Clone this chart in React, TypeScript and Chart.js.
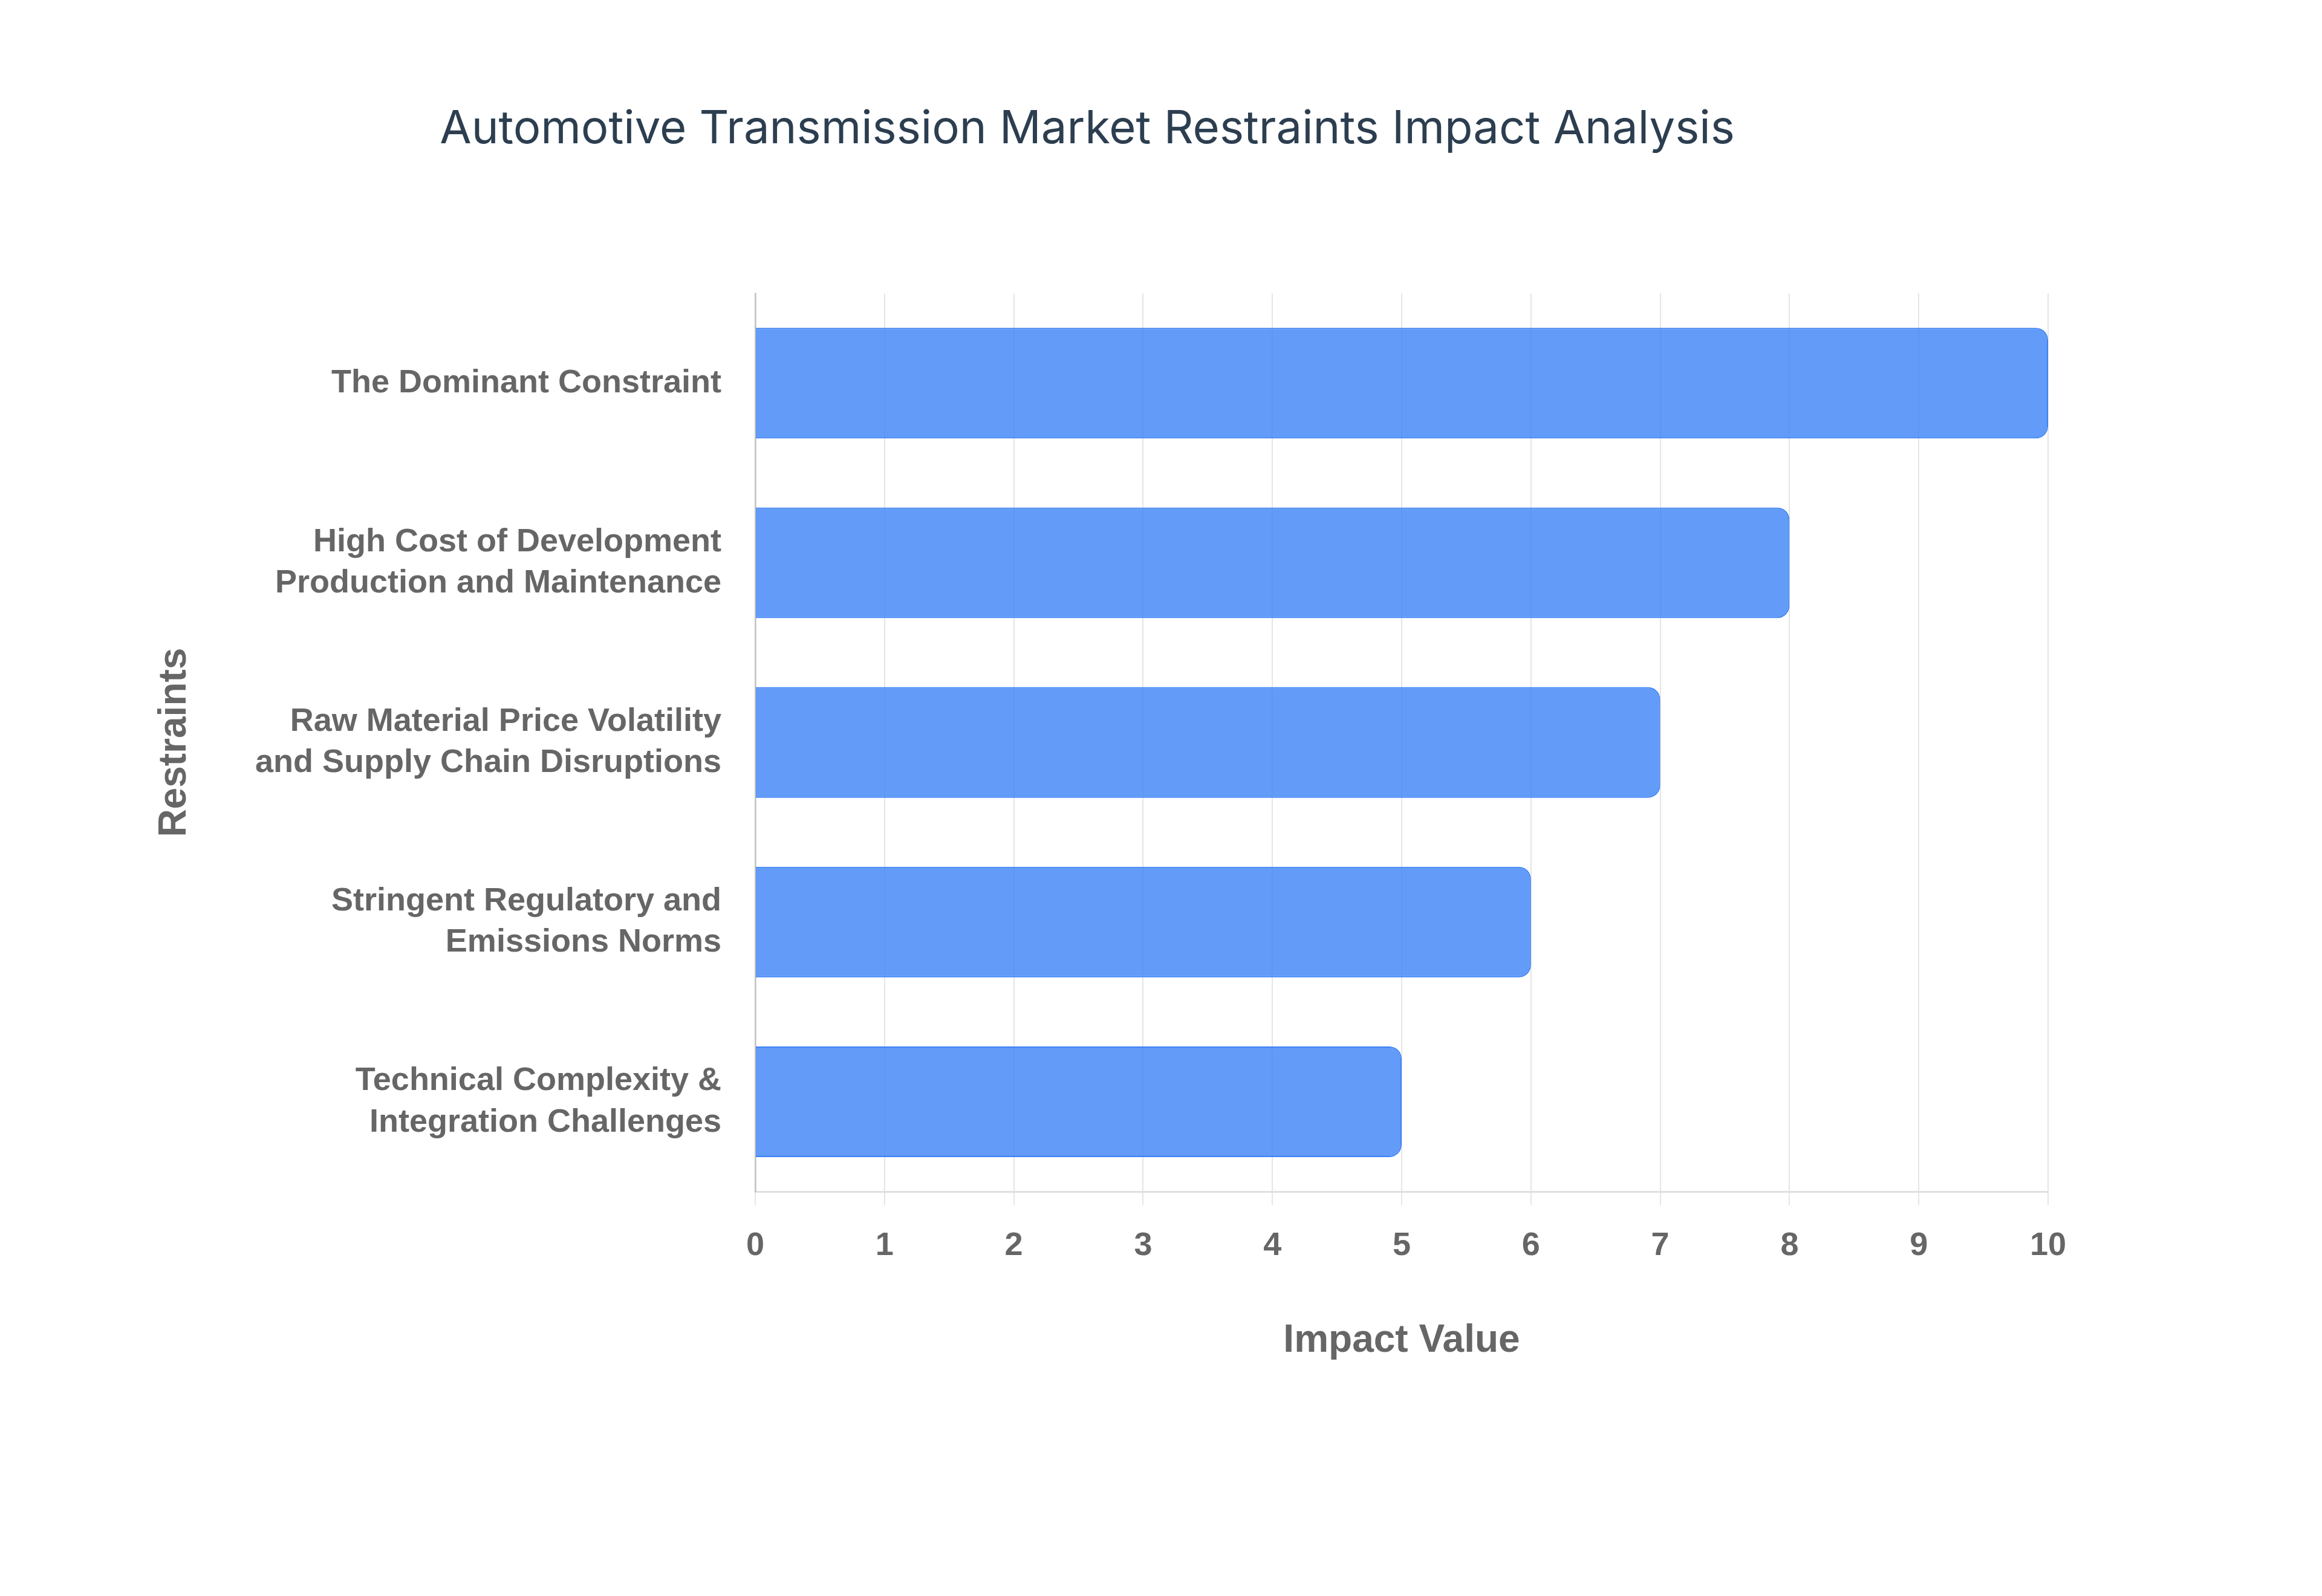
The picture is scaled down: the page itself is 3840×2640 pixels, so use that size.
import React, { useEffect, useRef } from 'react';
import { Chart, registerables } from 'chart.js';

Chart.register(...registerables);

const categories: (string | string[])[] = [
  'The Dominant Constraint',
  ['High Cost of Development', 'Production and Maintenance'],
  ['Raw Material Price Volatility', 'and Supply Chain Disruptions'],
  ['Stringent Regulatory and', 'Emissions Norms'],
  ['Technical Complexity &', 'Integration Challenges'],
];
const impactValues = [10, 8, 7, 6, 5];
const xTicks = [0, 1, 2, 3, 4, 5, 6, 7, 8, 9, 10];

const W = 3840;
const H = 2640;
const axisGrey = '#666666';

export default function App() {
  const canvasRef = useRef<HTMLCanvasElement | null>(null);
  const chartRef = useRef<Chart | null>(null);

  useEffect(() => {
    document.body.style.margin = '0';
    if (!canvasRef.current) return;
    if (chartRef.current) chartRef.current.destroy();
    const ctx = canvasRef.current.getContext('2d');
    if (!ctx) return;

    chartRef.current = new Chart(ctx, {
      type: 'bar',
      data: {
        labels: categories,
        datasets: [
          {
            label: 'Impact Value',
            data: impactValues,
            backgroundColor: 'rgba(59, 130, 246, 0.8)',
            borderColor: 'rgb(59, 130, 246)',
            borderWidth: 2,
            borderRadius: 20,
            borderSkipped: 'start',
            barPercentage: 0.77,
            categoryPercentage: 0.8,
          },
        ],
      },
      options: {
        indexAxis: 'y',
        responsive: false,
        maintainAspectRatio: false,
        animation: false,
        devicePixelRatio: 1,
        layout: {
          padding: { left: 209, right: 453, top: 0, bottom: 340 },
        },
        plugins: {
          legend: { display: false },
          tooltip: { enabled: false },
          title: {
            display: true,
            text: 'Automotive Transmission Market Restraints Impact Analysis',
            color: '#2c3e50',
            font: { family: 'Inter', size: 76, weight: 'normal', lineHeight: 1.2 },
            padding: { top: 169, bottom: 225 },
          },
        },
        scales: {
          x: {
            type: 'linear',
            min: 0,
            max: 10,
            afterBuildTicks: (scale: any) => {
              scale.ticks = xTicks.map((v) => ({ value: v }));
            },
            afterFit: (scale: any) => {
              scale.height = 329;
            },
            grid: {
              color: 'rgba(0, 0, 0, 0.1)',
              lineWidth: 2,
              drawTicks: true,
              tickLength: 22,
            },
            border: { display: true, color: 'rgba(0, 0, 0, 0.12)', width: 3 },
            ticks: {
              color: axisGrey,
              padding: 36,
              font: { family: 'Liberation Sans, Arial, sans-serif', size: 54, weight: 'bold' },
            },
            title: {
              display: true,
              text: 'Impact Value',
              color: axisGrey,
              font: { family: 'Liberation Sans, Arial, sans-serif', size: 64, weight: 'bold' },
              padding: { top: 0, bottom: 43 },
            },
          },
          y: {
            afterFit: (scale: any) => {
              scale.width = 1040;
            },
            grid: { display: false, drawTicks: false },
            border: { display: true, color: 'rgba(0, 0, 0, 0.15)', width: 3 },
            ticks: {
              color: axisGrey,
              padding: 56,
              font: { family: 'Liberation Sans, Arial, sans-serif', size: 54, weight: 'bold', lineHeight: 1.27 },
            },
            title: {
              display: true,
              text: 'Restraints',
              color: axisGrey,
              font: { family: 'Liberation Sans, Arial, sans-serif', size: 64, weight: 'bold' },
              padding: { top: 42, bottom: 0 },
            },
          },
        },
      },
    });

    return () => {
      if (chartRef.current) {
        chartRef.current.destroy();
        chartRef.current = null;
      }
    };
  }, []);

  return (
    <div style={{ width: W, height: H, background: '#ffffff' }}>
      <canvas ref={canvasRef} width={W} height={H} style={{ display: 'block', width: W, height: H }}></canvas>
    </div>
  );
}
